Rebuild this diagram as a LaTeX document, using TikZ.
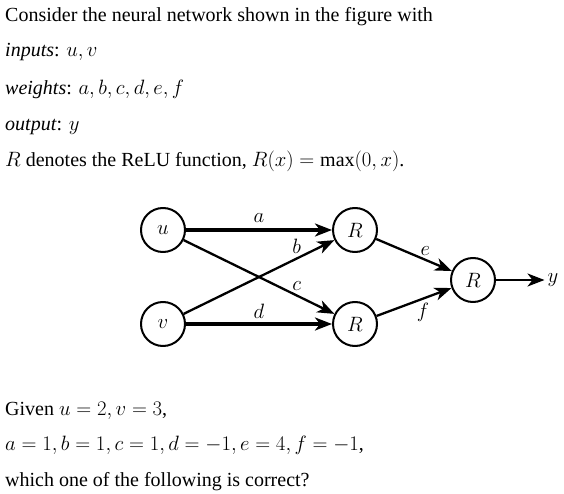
\documentclass[tikz,border=0pt]{standalone}
\usepackage{fontspec}
\setmainfont{Liberation Serif}
\usetikzlibrary{arrows.meta}
\begin{document}
\begin{tikzpicture}[x=1pt,y=-1pt,>={Stealth[length=17pt,width=13pt,inset=5pt]}, line join=round, font=\fontsize{20}{24}\selectfont,
	neuron/.style={circle,draw,line width=2pt,minimum size=44pt,inner sep=0pt},
	txt/.style={anchor=base west,inner sep=0pt},
	wire/.style={->,line width=2.3pt},
	thickwire/.style={->,line width=3.6pt}]
	\useasboundingbox (0,0) rectangle (564,494);
	% question text
	\node[txt] (l1) at (5,22) {Consider the neural network shown in the figure with};
	\node[txt] (l2) at (5,57) {\textit{inputs}: $u,v$};
	\node[txt] (l3) at (5,95) {\textit{weights}: $a,b,c,d,e,f$};
	\node[txt] (l4) at (5,131) {\textit{output}: $y$};
	\node[txt] (l5) at (5,167) {$R$ denotes the ReLU function, $R(x)=\max(0,x)$.};
	% network
	\node[neuron] (u) at (163,230) {$u$};
	\node[neuron] (v) at (163,324) {$v$};
	\node[neuron] (h1) at (355,230) {$R$};
	\node[neuron] (h2) at (355,324) {$R$};
	\node[neuron] (o) at (473,280) {$R$};
	\node[inner sep=3pt] (y) at (553,280) {$y$};
	\draw[thickwire] (u) -- (h1) node[midway,above=2pt]{$a$};
	\draw[wire] (v) -- (h1) node[pos=0.75,above=1pt]{$b$};
	\draw[wire] (u) -- (h2) node[pos=0.75,above]{$c$};
	\draw[thickwire] (v) -- (h2) node[midway,above]{$d$};
	\draw[wire] (h1) -- (o) node[pos=0.65,above]{$e$};
	\draw[wire] (h2) -- (o) node[pos=0.62,below]{$f$};
	\draw[wire] (o.east) -- (y.west);
	% given values
	\node[txt] (l6) at (5,415) {Given $u=2,v=3$,};
	\node[txt] (l7) at (5,450) {$a=1,b=1,c=1,d=-1,e=4,f=-1$,};
	\node[txt] (l8) at (5,486) {which one of the following is correct?};
\end{tikzpicture}
\end{document}
